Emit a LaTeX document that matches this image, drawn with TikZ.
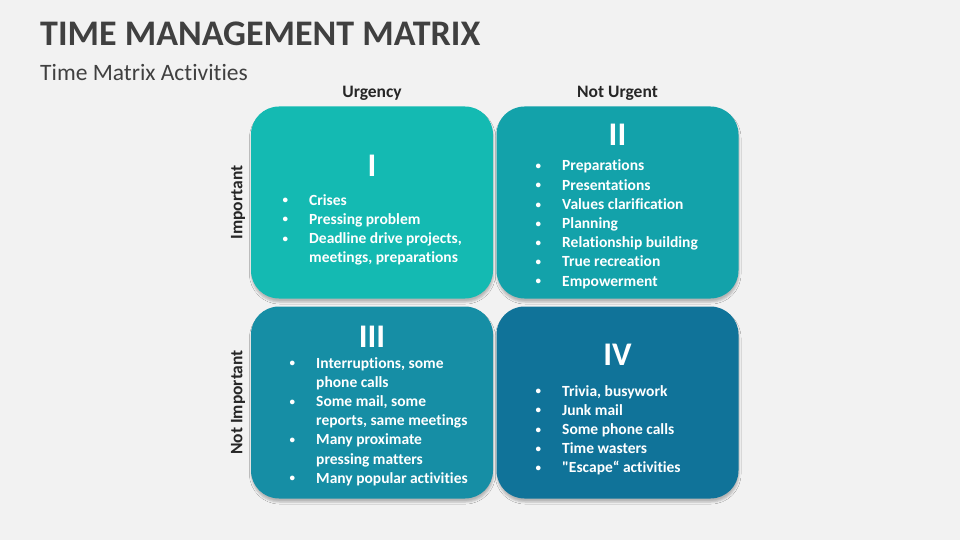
\documentclass[tikz,border=0pt]{standalone}
\usepackage{fontspec}
\setmainfont[Ligatures=NoCommon]{Carlito}
\newfontfamily\plainfont[Ligatures=NoCommon]{Carlito}
\usetikzlibrary{shadows.blur}
\definecolor{bggray}{HTML}{F2F2F2}
\definecolor{qone}{HTML}{14BAB2}
\definecolor{qtwo}{HTML}{13A2AA}
\definecolor{qthree}{HTML}{168EA5}
\definecolor{qfour}{HTML}{107399}
\definecolor{titlegray}{HTML}{404040}
\definecolor{labelgray}{HTML}{262626}
\newcommand{\bul}{\raisebox{1.3pt}{\fontsize{11}{11}\selectfont\textbullet}}
\newcommand{\squote}{{\plainfont\bfseries"}}

\begin{document}
\begin{tikzpicture}[x=1pt, y=-1pt,
  quad/.style={rounded corners=28pt, minimum width=242pt, minimum height=192pt,
    inner sep=0pt, blur shadow={shadow xshift=0.5pt, shadow yshift=-3.5pt,
    shadow blur radius=2pt, shadow opacity=25}},
  numeral/.style={anchor=base, text=white, inner sep=0pt,
    font=\bfseries\fontsize{33}{33}\selectfont},
  items/.style={anchor=base west, text=white, inner sep=0pt,
    font=\bfseries\fontsize{15.5}{19.2}\selectfont},
  axis/.style={text=labelgray, inner sep=0pt,
    font=\bfseries\fontsize{17.5}{20}\selectfont}]

  % Fondo
  \fill[bggray] (0,0) rectangle (960,540);
  \useasboundingbox (0,0) rectangle (960,540);

  % Titulo
  \node[anchor=base west, inner sep=0pt, text=titlegray,
    font=\bfseries\fontsize{36}{36}\selectfont] (title) at (40,46) {TIME MANAGEMENT MATRIX};
  \node[anchor=base west, inner sep=0pt, text=titlegray,
    font=\fontsize{23.5}{24}\selectfont] (subtitle) at (40,81) {Time Matrix Activities};

  % Cuadrantes
  \foreach \n/\x/\y/\c in {I/372/202.5/qone, II/617.5/202.5/qtwo,
                           III/372/402.5/qthree, IV/617.5/402.5/qfour}
    \node[quad, fill=\c] (box\n) at (\x,\y) {};

  % Numeros romanos
  \node[numeral] (numI) at (372,176) {I};
  \node[numeral] (numII) at (617.5,146) {II};
  \node[numeral] (numIII) at (372,347) {III};
  \node[numeral] (numIV) at (617.5,365) {IV};

  % Etiquetas de ejes
  \node[axis, anchor=base] (urgent) at (372,98) {Urgency};
  \node[axis, anchor=base] (noturgent) at (617.5,98) {Not Urgent};
  \node[axis, rotate=90] (important) at (238,202.5) {Important};
  \node[axis, rotate=90] (notimportant) at (238,402.5) {Not Important};

  % Listas
  \node[items] (listI) at (282.5,205) {\begin{tabular}[t]{@{}p{26.5pt}@{}l@{}}
    \bul & Crises\\
    \bul & Pressing problem\\
    \bul & Deadline drive projects,\\
         & meetings, preparations
  \end{tabular}};
  \node[items] (listII) at (535.5,171) {\begin{tabular}[t]{@{}p{26.5pt}@{}l@{}}
    \bul & Preparations\\
    \bul & Presentations\\
    \bul & Values clarification\\
    \bul & Planning\\
    \bul & Relationship building\\
    \bul & True recreation\\
    \bul & Empowerment
  \end{tabular}};
  \node[items] (listIII) at (289.5,368) {\begin{tabular}[t]{@{}p{26.5pt}@{}l@{}}
    \bul & Interruptions, some\\
         & phone calls\\
    \bul & Some mail, some\\
         & reports, same meetings\\
    \bul & Many proximate\\
         & pressing matters\\
    \bul & Many popular activities
  \end{tabular}};
  \node[items] (listIV) at (535.5,396) {\begin{tabular}[t]{@{}p{26.5pt}@{}l@{}}
    \bul & Trivia, busywork\\
    \bul & Junk mail\\
    \bul & Some phone calls\\
    \bul & Time wasters\\
    \bul & \squote Escape“ activities
  \end{tabular}};

\end{tikzpicture}
\end{document}
